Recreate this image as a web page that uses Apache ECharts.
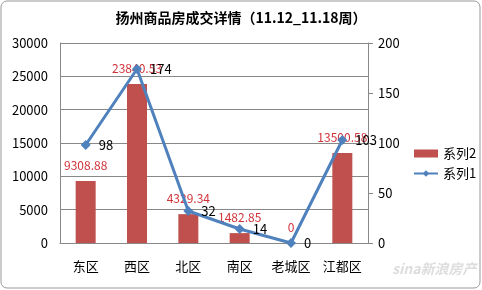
<!DOCTYPE html>
<html>
<head>
<meta charset="utf-8">
<script src="https://cdn.jsdelivr.net/npm/echarts@6/dist/echarts.min.js"></script>
<style>
  html, body { margin: 0; padding: 0; background: #fff; }
  #main { width: 482px; height: 290px; }
</style>
</head>
<body>
<div id="main"></div>
<script>
var categories = ['东区', '西区', '北区', '南区', '老城区', '江都区'];
var series2 = [9308.88, 23840.53, 4329.34, 1482.85, 0, 13500.58];
var series1 = [98, 174, 32, 14, 0, 103];

var font = '"Noto Sans CJK SC", "DejaVu Sans", sans-serif';
var myChart = echarts.init(document.getElementById('main'));
var option = {
  animation: false,
  textStyle: { fontFamily: font },
  title: {
    text: '扬州商品房成交详情（11.12_11.18周）',
    left: 'center',
    top: 6,
    textStyle: { fontSize: 14, fontWeight: 'bold', color: '#000', fontFamily: font }
  },
  graphic: [
    {
      type: 'rect',
      shape: { x: 1, y: 1, width: 479, height: 287, r: 6 },
      style: { fill: 'none', stroke: '#999', lineWidth: 1 },
      silent: true
    },
    {
      type: 'text',
      left: 392, top: 262,
      style: { text: 'sina新浪房产', fill: '#ddd', font: 'bold italic 14px ' + font },
      silent: true
    }
  ],
  legend: {
    orient: 'vertical',
    left: 408,
    top: 142,
    itemGap: 7,
    itemWidth: 24,
    itemHeight: 8,
    textStyle: { fontSize: 13, color: '#000' },
    data: [
      { name: '系列2', icon: 'rect' },
      { name: '系列1' }
    ]
  },
  grid: { left: 60, right: 114, top: 43, bottom: 47 },
  xAxis: {
    type: 'category',
    data: categories,
    axisLine: { lineStyle: { color: '#888' } },
    axisTick: { show: false },
    axisLabel: { color: '#000', fontSize: 13, margin: 17 }
  },
  yAxis: [
    {
      type: 'value',
      min: 0, max: 30000, interval: 5000,
      axisLine: { show: true, lineStyle: { color: '#888' } },
      axisTick: { show: false },
      axisLabel: { color: '#000', fontSize: 13, margin: 12, formatter: function (v) { return String(v); } },
      splitLine: { lineStyle: { color: '#888' } }
    },
    {
      type: 'value',
      min: 0, max: 200, interval: 50,
      axisLine: { show: true, lineStyle: { color: '#888' } },
      axisTick: { show: true, length: 5, lineStyle: { color: '#888' } },
      axisLabel: { color: '#000', fontSize: 13, margin: 10 },
      splitLine: { show: false }
    }
  ],
  series: [
    {
      name: '系列2',
      type: 'bar',
      yAxisIndex: 0,
      barWidth: 20,
      itemStyle: { color: '#C0504D' },
      label: {
        show: true, position: 'top', distance: 10,
        color: '#D0333A', fontSize: 12
      },
      data: series2
    },
    {
      name: '系列1',
      type: 'line',
      yAxisIndex: 1,
      symbol: 'diamond',
      symbolSize: 10,
      lineStyle: { color: '#4F81BD', width: 3 },
      itemStyle: { color: '#4F81BD' },
      label: {
        show: true, position: 'right', distance: 8,
        color: '#000', fontSize: 13
      },
      data: series1
    }
  ]
};
myChart.setOption(option);
</script>
</body>
</html>
